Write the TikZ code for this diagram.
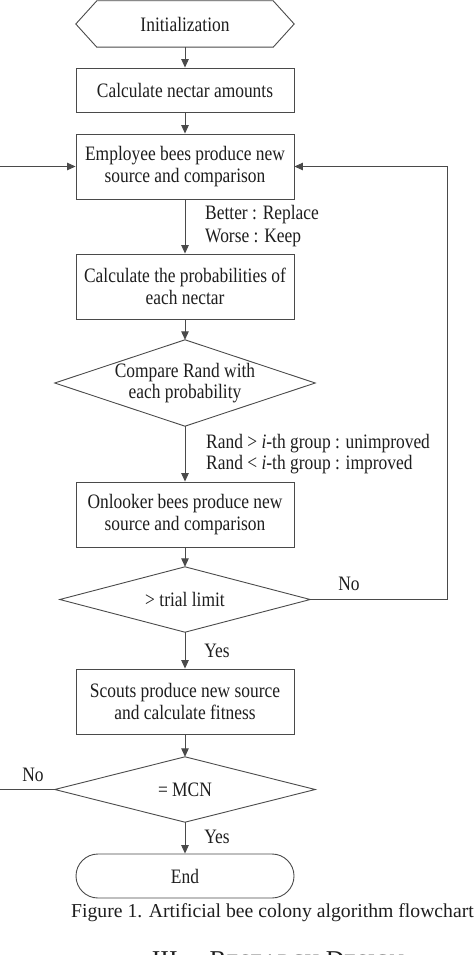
\documentclass[tikz,border=0pt]{standalone}
\usepackage{fontspec}
\setmainfont{Liberation Serif}[FakeStretch=0.85]
\newfontfamily\capfont{Liberation Serif}
\usetikzlibrary{arrows.meta}
\definecolor{linec}{HTML}{4A4A4A}
\definecolor{txtc}{HTML}{1E1E1E}
\begin{document}
\begin{tikzpicture}[x=1pt,y=-1pt,
  txt/.style={text=txtc, font=\fontsize{20.5}{21.7}\selectfont, inner sep=0pt, align=center},
  ln/.style={draw=linec, line width=0.9pt},
  box/.style={txt, ln, minimum width=218pt, minimum height=#1},
  plain/.style={txt, minimum width=#1},
  arr/.style={ln, -{Triangle[length=8.5pt,width=7.5pt]}},
  lbl/.style={txt, align=left, anchor=west}]
\useasboundingbox (0,0) rectangle (474,955);

% start hexagon
\node[plain=218pt, minimum height=46pt] (init) at (185,24) {Initialization};
\draw[ln] (init.west) -- ([xshift=21pt]init.north west) -- ([xshift=-21pt]init.north east)
  -- (init.east) -- ([xshift=-21pt]init.south east) -- ([xshift=21pt]init.south west) -- cycle;

\node[box=44pt] (calc) at (185,90) {Calculate nectar amounts};
\node[box=65pt] (emp) at (185,166.5) {Employee bees produce new\\source and comparison};
\node[box=65pt] (prob) at (185,286.5) {Calculate the probabilities of\\each nectar};

\node[plain=260pt, minimum height=86pt] (cmp) at (185,383) {Compare Rand with\\each probability};
\draw[ln] (cmp.north) -- (cmp.east) -- (cmp.south) -- (cmp.west) -- cycle;

\node[box=65pt] (onl) at (185,514.5) {Onlooker bees produce new\\source and comparison};

\node[plain=250pt, minimum height=65pt] (trial) at (185,599.5) {{>} trial limit};
\draw[ln] (trial.north) -- (trial.east) -- (trial.south) -- (trial.west) -- cycle;

\node[box=65pt] (scout) at (185,701.5) {Scouts produce new source\\and calculate fitness};

\node[plain=260pt, minimum height=65pt] (mcn) at (185,789.5) {= MCN};
\draw[ln] (mcn.north) -- (mcn.east) -- (mcn.south) -- (mcn.west) -- cycle;

\node[box=44pt, rounded corners=22pt] (end) at (185,876) {End};

% vertical connectors
\draw[arr] (init.south) -- (calc.north);
\draw[arr] (calc.south) -- (emp.north);
\draw[arr] (emp.south) -- (prob.north);
\draw[arr] (prob.south) -- (cmp.north);
\draw[arr] (cmp.south) -- (onl.north);
\draw[arr] (onl.south) -- (trial.north);
\draw[arr] (trial.south) -- (scout.north);
\draw[arr] (scout.south) -- (mcn.north);
\draw[arr] (mcn.south) -- (end.north);

% loops
\coordinate (rc) at (447,599.5);
\draw[arr] (trial.east) -- (rc) |- (emp.east);
\coordinate (lc) at (-2,789.5);
\draw[arr] (mcn.west) -- (lc) |- (emp.west);

% labels
\node[lbl, font=\fontsize{20.5}{23}\selectfont] (l1) at (205,226.5) {Better : Replace\\Worse : Keep};
\node[lbl] (l2) at (206,454) {Rand {>} \textit{i}-th group : unimproved\\Rand {<} \textit{i}-th group : improved};
\node[txt] (no1) at (349,584) {No};
\node[txt] (yes1) at (217,651) {Yes};
\node[txt] (no2) at (33,775) {No};
\node[txt] (yes2) at (217,837) {Yes};

% caption
\node[txt, font=\capfont\fontsize{19.7}{24}\selectfont] (cap) at (272.5,913) {Figure 1. Artificial bee colony algorithm flowchart};
\node[txt, anchor=base, font=\capfont\fontsize{25.7}{30}\selectfont] (sec) at (278,968)
  {III.\quad R{\fontsize{20.3}{24}\selectfont ESEARCH} D{\fontsize{20.3}{24}\selectfont ESIGN}};
\end{tikzpicture}
\end{document}
